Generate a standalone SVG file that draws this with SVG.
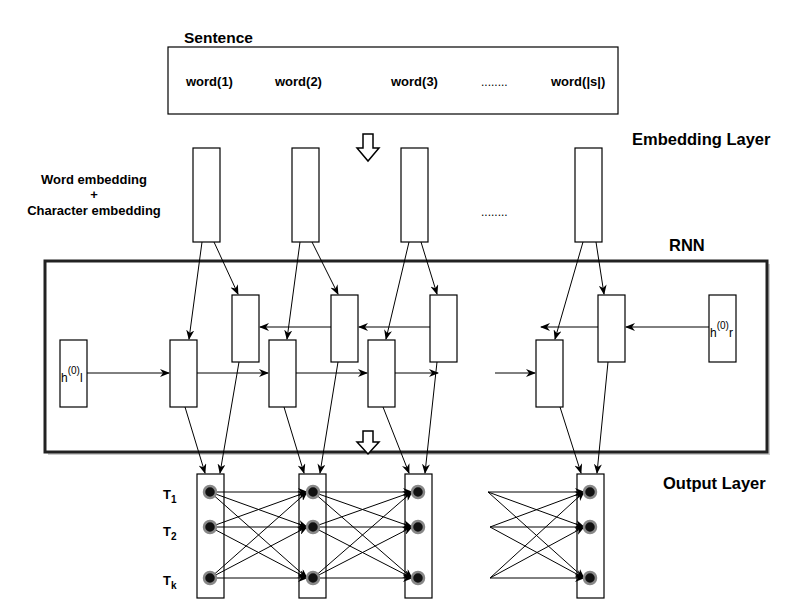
<svg xmlns="http://www.w3.org/2000/svg" width="794" height="603" viewBox="0 0 794 603">
<style>
.b{fill:#fff;stroke:#000;stroke-width:1.2}
.t{font-family:"Liberation Sans",Arial,sans-serif;font-size:13px;font-weight:bold}
.s{font-family:"Liberation Sans",Arial,sans-serif;font-size:12px}
.c line{stroke:#000;stroke-width:1}
.a{marker-end:url(#ah)}
.n{fill:#111;stroke:#888;stroke-width:2.5}
</style>
<defs>
<marker id="ah" markerWidth="10" markerHeight="8" refX="9" refY="4" orient="auto" markerUnits="userSpaceOnUse"><path d="M0,0 L10,4 L0,8 L3,4 z" fill="#000"/></marker>
</defs>
<rect width="794" height="603" fill="#fff"/>
<g id="sentence">
<text class="t" x="184" y="43" style="font-size:15.5px">Sentence</text>
<rect class="b" x="168" y="47" width="450" height="67"/>
<text class="t" x="186" y="86">word(1)</text>
<text class="t" x="275" y="86">word(2)</text>
<text class="t" x="391" y="86">word(3)</text>
<text class="s" x="481" y="86">........</text>
<text class="t" x="551" y="86">word(|s|)</text>
</g>
<g id="labels">
<text class="t" x="632" y="145" style="font-size:16.5px">Embedding Layer</text>
<text class="t" x="94" y="184" text-anchor="middle">Word embedding</text>
<text class="t" x="94" y="199" text-anchor="middle">+</text>
<text class="t" x="94" y="215" text-anchor="middle">Character embedding</text>
<text class="s" x="481" y="216">........</text>
<text class="t" x="669" y="251" style="font-size:16.5px">RNN</text>
<text class="t" x="663" y="489" style="font-size:16.5px">Output Layer</text>
<text class="t" x="163" y="499">T<tspan font-size="10" dy="4">1</tspan></text>
<text class="t" x="163" y="536">T<tspan font-size="10" dy="4">2</tspan></text>
<text class="t" x="163" y="585">T<tspan font-size="10" dy="4">k</tspan></text>
</g>
<g id="embedding">
<rect class="b" x="193" y="148" width="27" height="94"/>
<rect class="b" x="292" y="148" width="27" height="94"/>
<rect class="b" x="401" y="148" width="27" height="94"/>
<rect class="b" x="575" y="148" width="27" height="94"/>
</g>
<g id="rnn">
<rect x="48" y="264" width="722" height="191" fill="#999" opacity="0.5"/>
<rect x="45" y="261" width="722" height="191" fill="#fff" stroke="#222" stroke-width="3"/>
<rect class="b" x="60" y="340" width="27" height="67"/>
<text class="s" x="61" y="382">h<tspan font-size="10" dy="-8">(0)</tspan><tspan dy="8">l</tspan></text>
<rect class="b" x="709" y="295" width="27" height="67"/>
<text class="s" x="710" y="337">h<tspan font-size="10" dy="-8">(0)</tspan><tspan dy="8">r</tspan></text>
<rect class="b" x="170" y="340" width="27" height="67"/>
<rect class="b" x="269" y="340" width="27" height="67"/>
<rect class="b" x="368" y="340" width="27" height="67"/>
<rect class="b" x="536" y="340" width="27" height="67"/>
<rect class="b" x="232" y="295" width="27" height="67"/>
<rect class="b" x="331" y="295" width="27" height="67"/>
<rect class="b" x="430" y="295" width="27" height="67"/>
<rect class="b" x="598" y="295" width="27" height="67"/>
</g>
<g id="hollow-arrows" fill="#fff" stroke="#000" stroke-width="1.5">
<path d="M363,134 h10 v14 h6 l-11,13 l-11,-13 h6 z"/>
<path d="M363,431 h10 v11 h6 l-11,12 l-11,-12 h6 z"/>
</g>
<g id="output">
<rect class="b" x="197" y="474" width="27" height="124"/>
<rect class="b" x="299" y="474" width="27" height="124"/>
<rect class="b" x="405" y="474" width="27" height="124"/>
<rect class="b" x="577" y="474" width="27" height="124"/>
</g>
<g class="c" id="connectors">
<line class="a" x1="87" y1="373" x2="169" y2="373"/>
<line class="a" x1="197" y1="373" x2="268" y2="373"/>
<line class="a" x1="296" y1="373" x2="367" y2="373"/>
<line class="a" x1="395" y1="373" x2="438" y2="373"/>
<line class="a" x1="495" y1="373" x2="535" y2="373"/>
<line class="a" x1="709" y1="327" x2="626" y2="327"/>
<line class="a" x1="598" y1="327" x2="541" y2="327"/>
<line class="a" x1="430" y1="327" x2="359" y2="327"/>
<line class="a" x1="331" y1="327" x2="260" y2="327"/>
<line class="a" x1="202" y1="242" x2="189" y2="339"/>
<line class="a" x1="214" y1="242" x2="238" y2="294"/>
<line class="a" x1="300" y1="242" x2="287" y2="339"/>
<line class="a" x1="312" y1="242" x2="338" y2="294"/>
<line class="a" x1="409" y1="242" x2="386" y2="339"/>
<line class="a" x1="421" y1="242" x2="437" y2="294"/>
<line class="a" x1="583" y1="242" x2="555" y2="339"/>
<line class="a" x1="596" y1="242" x2="604" y2="294"/>
<line class="a" x1="185" y1="407" x2="205" y2="473"/>
<line class="a" x1="239" y1="362" x2="220" y2="473"/>
<line class="a" x1="284" y1="407" x2="304" y2="473"/>
<line class="a" x1="338" y1="362" x2="320" y2="473"/>
<line class="a" x1="383" y1="407" x2="409" y2="473"/>
<line class="a" x1="437" y1="362" x2="425" y2="473"/>
<line class="a" x1="560" y1="407" x2="581" y2="473"/>
<line class="a" x1="608" y1="362" x2="597" y2="473"/>
<line class="a" x1="210" y1="492" x2="307" y2="492"/>
<line class="a" x1="210" y1="492" x2="307" y2="527"/>
<line class="a" x1="210" y1="492" x2="307" y2="578"/>
<line class="a" x1="210" y1="527" x2="307" y2="492"/>
<line class="a" x1="210" y1="527" x2="307" y2="527"/>
<line class="a" x1="210" y1="527" x2="307" y2="578"/>
<line class="a" x1="210" y1="578" x2="307" y2="492"/>
<line class="a" x1="210" y1="578" x2="307" y2="527"/>
<line class="a" x1="210" y1="578" x2="307" y2="578"/>
<line class="a" x1="313" y1="492" x2="412" y2="492"/>
<line class="a" x1="313" y1="492" x2="412" y2="527"/>
<line class="a" x1="313" y1="492" x2="412" y2="578"/>
<line class="a" x1="313" y1="527" x2="412" y2="492"/>
<line class="a" x1="313" y1="527" x2="412" y2="527"/>
<line class="a" x1="313" y1="527" x2="412" y2="578"/>
<line class="a" x1="313" y1="578" x2="412" y2="492"/>
<line class="a" x1="313" y1="578" x2="412" y2="527"/>
<line class="a" x1="313" y1="578" x2="412" y2="578"/>
<line class="a" x1="488" y1="492" x2="584" y2="492"/>
<line class="a" x1="488" y1="492" x2="584" y2="527"/>
<line class="a" x1="488" y1="492" x2="584" y2="578"/>
<line class="a" x1="490" y1="527" x2="584" y2="492"/>
<line class="a" x1="490" y1="527" x2="584" y2="527"/>
<line class="a" x1="490" y1="527" x2="584" y2="578"/>
<line class="a" x1="490" y1="578" x2="584" y2="492"/>
<line class="a" x1="490" y1="578" x2="584" y2="527"/>
<line class="a" x1="490" y1="578" x2="584" y2="578"/>
</g>
<g id="nodes-circles">
<circle class="n" cx="210" cy="492" r="6"/><circle class="n" cx="210" cy="527" r="6"/><circle class="n" cx="210" cy="578" r="6"/>
<circle class="n" cx="313" cy="492" r="6"/><circle class="n" cx="313" cy="527" r="6"/><circle class="n" cx="313" cy="578" r="6"/>
<circle class="n" cx="418" cy="492" r="6"/><circle class="n" cx="418" cy="527" r="6"/><circle class="n" cx="418" cy="578" r="6"/>
<circle class="n" cx="590" cy="492" r="6"/><circle class="n" cx="590" cy="527" r="6"/><circle class="n" cx="590" cy="578" r="6"/>
</g>
</svg>
